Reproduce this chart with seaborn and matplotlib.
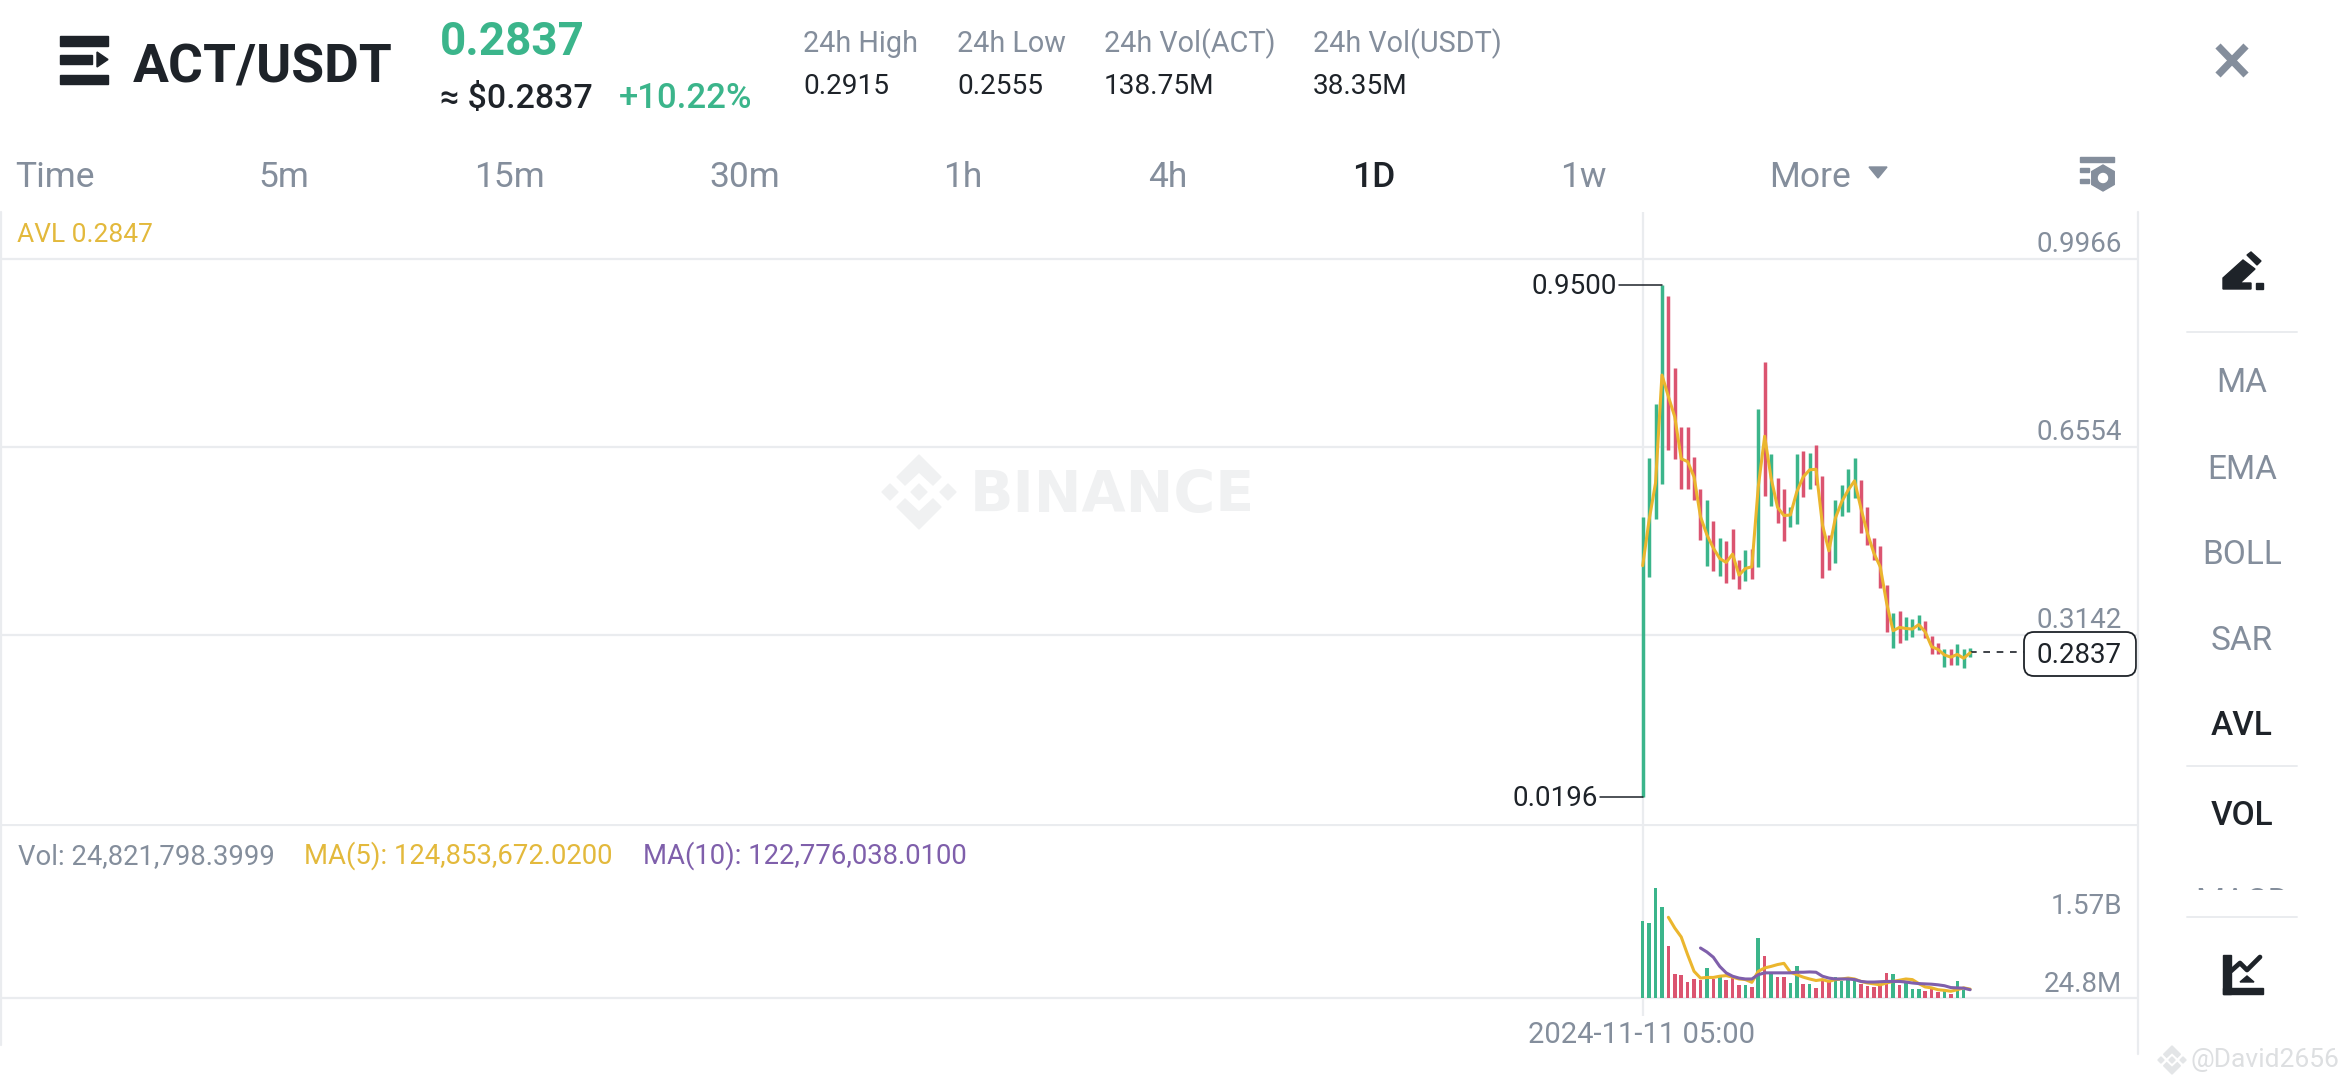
import numpy as np
import pandas as pd
import matplotlib
matplotlib.use('Agg')
import matplotlib.pyplot as plt
import seaborn as sns
from matplotlib.patches import Circle, FancyBboxPatch, Polygon, Rectangle, RegularPolygon

W, H = 2340, 1080

GREEN = '#3BB58B'
RED = '#DB5470'
YELLOW = '#EBB62E'
LABEL_YELLOW = '#E3B93C'
PURPLE = '#7F5FAB'
DARK = '#1E2329'
GRAY = '#848E9C'
LINE = '#EAECEF'

# candles: g = up, r = down
SIDE = list('ggggrrrrrrgrgrrrgrgrgrrggrgrrrggggrrrrrgrgggrrrgrggg')
HIGH = [0.528, 0.636, 0.733, 0.950, 0.929, 0.798, 0.692, 0.692, 0.638, 0.580,
        0.559, 0.521, 0.491, 0.484, 0.506, 0.450, 0.468, 0.470, 0.724, 0.809,
        0.642, 0.600, 0.580, 0.546, 0.642, 0.649, 0.645, 0.659, 0.602, 0.496,
        0.560, 0.586, 0.615, 0.635, 0.595, 0.547, 0.491, 0.476, 0.405, 0.354,
        0.357, 0.346, 0.343, 0.350, 0.339, 0.312, 0.300, 0.289, 0.288, 0.298,
        0.288, 0.290]
LOW = [0.0196, 0.420, 0.525, 0.588, 0.650, 0.633, 0.579, 0.579, 0.560, 0.487,
       0.440, 0.431, 0.422, 0.409, 0.415, 0.397, 0.412, 0.416, 0.438, 0.566,
       0.548, 0.517, 0.485, 0.511, 0.515, 0.565, 0.579, 0.586, 0.418, 0.432,
       0.445, 0.531, 0.538, 0.562, 0.500, 0.477, 0.450, 0.400, 0.320, 0.291,
       0.300, 0.305, 0.310, 0.323, 0.308, 0.280, 0.280, 0.256, 0.260, 0.259,
       0.254, 0.274]
AVL = [0.440, 0.523, 0.590, 0.786, 0.747, 0.710, 0.634, 0.629, 0.601, 0.529,
       0.496, 0.472, 0.453, 0.446, 0.461, 0.423, 0.435, 0.438, 0.583, 0.675,
       0.599, 0.546, 0.531, 0.532, 0.574, 0.601, 0.614, 0.615, 0.514, 0.467,
       0.526, 0.556, 0.577, 0.594, 0.544, 0.499, 0.463, 0.438, 0.372, 0.322,
       0.328, 0.326, 0.325, 0.333, 0.320, 0.293, 0.288, 0.278, 0.274, 0.279,
       0.272, 0.282]

# volume in millions
VOL = [250, 245, 359, 296, 171, 79, 74, 53, 61, 60,
       97, 61, 68, 59, 71, 41, 43, 36, 196, 138,
       78, 68, 67, 49, 105, 46, 45, 34, 58, 54,
       68, 57, 60, 62, 45, 40, 35, 42, 82, 79,
       42, 52, 30, 28, 22, 29, 20, 22, 14, 57,
       25, 0]
MA5 = [np.nan, np.nan, np.nan, np.nan,
       263, 228, 199, 141, 87, 65,
       67, 67, 71, 73, 68, 62, 60, 51, 87, 98,
       103, 109, 113, 84, 76, 68, 62, 57, 60, 54,
       60, 62, 65, 62, 54, 49, 46, 43, 49, 54,
       58, 62, 60, 47, 36, 33, 27, 25, 22, 27,
       33, 29]
MA10 = [np.nan, np.nan, np.nan, np.nan, np.nan, np.nan, np.nan, np.nan, np.nan,
        163,
        150, 133, 103, 82, 71, 65, 62, 62, 76, 82,
        82, 82, 82, 82, 84, 84, 85, 84, 71, 65,
        62, 62, 62, 60, 54, 52, 52, 53, 54, 54,
        54, 52, 49, 47, 46, 45, 43, 40, 34, 33,
        32, 27]

PRICE_TICKS = ['0.9966', '0.6554', '0.3142']
TABS = ['Time', '5m', '15m', '30m', '1h', '4h', '1D', '1w', 'More']
MENU = ['MA', 'EMA', 'BOLL', 'SAR', 'AVL', 'VOL']
STATS = [('24h High', '0.2915'), ('24h Low', '0.2555'),
         ('24h Vol(ACT)', '138.75M'), ('24h Vol(USDT)', '38.35M')]


def panel(fig, top, bottom, right=2138):
    # axes placed by its pixel box, y counted from the top of the picture
    ax = fig.add_axes([0, 1 - bottom / H, right / W, (bottom - top) / H])
    ax.patch.set_alpha(0)
    # same mapping on both panels: one candle is 6.42 px, the first at x=1642.7
    ax.set_xlim(-1642.7 / 6.42, (right - 1642.7) / 6.42)
    return ax


def plain(ax):
    ax.set_xlabel('')
    ax.set_ylabel('')
    ax.set_xticks([])
    sns.despine(ax=ax, left=True, bottom=True)


def draw_icons(ov):
    # menu icon
    ov.add_patch(Rectangle((60, 36), 48, 10, color=DARK))
    ov.add_patch(Rectangle((60, 55), 32, 9, color=DARK))
    ov.add_patch(Polygon([(97, 52), (108, 59.5), (97, 67)], color=DARK))
    ov.add_patch(Rectangle((60, 75), 48, 9, color=DARK))

    # close
    ov.plot([2218, 2246], [46, 75], color=GRAY, lw=5.2, solid_capstyle='butt')
    ov.plot([2246, 2218], [46, 75], color=GRAY, lw=5.2, solid_capstyle='butt')

    # triangle next to More
    ov.add_patch(Polygon([(1869, 167), (1887, 167), (1878, 178)], color=GRAY))

    # settings icon
    ov.add_patch(Rectangle((2080, 157), 34, 5, color=GRAY))
    ov.add_patch(Rectangle((2080, 168), 9, 4, color=GRAY))
    ov.add_patch(Rectangle((2080, 179), 9, 4, color=GRAY))
    ov.add_patch(RegularPolygon((2103, 178), 6, radius=13, color=GRAY))
    ov.add_patch(Circle((2103, 178), 4.5, color='white'))

    # pen icon
    ov.add_patch(Polygon([(2223, 289), (2223, 278), (2243, 260), (2255, 269), (2240, 283),
                          (2251, 283), (2251, 289)], color=DARK))
    ov.add_patch(Polygon([(2247, 255), (2251, 252), (2261, 261), (2257, 265)], color=DARK))
    ov.add_patch(Rectangle((2256, 283), 7, 6, color=DARK))

    # chart icon
    ov.add_patch(Rectangle((2223, 955), 8, 39, color=DARK))
    ov.add_patch(Rectangle((2223, 988), 40, 6, color=DARK))
    ov.plot([2231, 2240, 2247, 2260], [971, 963, 970, 957], color=DARK, lw=3.4)
    ov.add_patch(Polygon([(2240, 982), (2247, 976), (2254, 982)], color=DARK))


def draw_logo(ov, cx, cy, scale, color):
    # exchange logo, big one behind the chart and small one by the watermark
    for dx in (-29, 0, 29):
        ov.add_patch(Polygon([(cx + (dx - 8) * scale, cy), (cx + dx * scale, cy - 8 * scale),
                              (cx + (dx + 8) * scale, cy), (cx + dx * scale, cy + 8 * scale)], color=color))
    for sign in (-1, 1):
        ov.add_patch(Polygon([(cx, cy + sign * 37 * scale), (cx - 22 * scale, cy + sign * 15 * scale),
                              (cx - 14 * scale, cy + sign * 7 * scale), (cx, cy + sign * 20 * scale),
                              (cx + 14 * scale, cy + sign * 7 * scale), (cx + 22 * scale, cy + sign * 15 * scale)],
                             color=color))


def main():
    df = pd.DataFrame({'idx': range(len(HIGH)), 'high': HIGH, 'low': LOW, 'avl': AVL, 'side': SIDE,
                       'vol': VOL, 'ma5': MA5, 'ma10': MA10})
    colors = {'g': GREEN, 'r': RED}

    sns.set_theme(style='white')
    plt.rcParams['font.family'] = ['Roboto', 'DejaVu Sans']
    fig = plt.figure(figsize=(W / 100, H / 100), dpi=100, facecolor='white')

    # price panel
    ax = panel(fig, 212, 824)
    ax.set_ylim(0.6554 + (447 - 824) / 551, 0.6554 + (447 - 212) / 551)
    ax.set_yticks([float(t) for t in PRICE_TICKS])
    ax.tick_params(left=False, labelleft=False)
    ax.grid(axis='y', color=LINE, lw=1.6)
    ax.axvline(0, color=LINE, lw=1.6, zorder=0)
    ax.vlines(df['idx'], df['low'], df['high'], colors=df['side'].map(colors), linewidth=2.5, zorder=2)
    sns.lineplot(data=df, x='idx', y='avl', color=YELLOW, linewidth=2.2, ax=ax, zorder=3)
    ax.plot([-3.7, 3], [0.95, 0.95], color=DARK, lw=1.1)
    ax.plot([-6.7, 0], [0.0196, 0.0196], color=DARK, lw=1.1)
    ax.plot([51, 59.4], [0.2837, 0.2837], color=DARK, lw=1.2, ls=(0, (4, 4)))
    plain(ax)

    # volume panel
    ax_vol = panel(fig, 824, 1016)
    ax_vol.axhline(0, color=LINE, lw=1.6, zorder=0)
    ax_vol.axhline((998 - 824) * 3.26, color=LINE, lw=3, zorder=0)
    ax_vol.axvline(0, color=LINE, lw=1.6, zorder=0)
    sns.barplot(data=df, x='idx', y='vol', hue='side', palette=colors, native_scale=True, dodge=False,
                width=0.55, saturation=1, linewidth=0, legend=False, ax=ax_vol)
    sns.lineplot(data=df, x='idx', y='ma5', color=YELLOW, linewidth=2.2, ax=ax_vol)
    sns.lineplot(data=df, x='idx', y='ma10', color=PURPLE, linewidth=2.2, ax=ax_vol)
    ax_vol.set_xlim(-1642.7 / 6.42, (2138 - 1642.7) / 6.42)
    ax_vol.set_ylim(-18 * 3.26, (998 - 824) * 3.26)
    ax_vol.set_yticks([])
    plain(ax_vol)

    # everything around the chart, in picture pixels
    ov = fig.add_axes([0, 0, 1, 1], zorder=5)
    ov.set_xlim(0, W)
    ov.set_ylim(H, 0)
    ov.axis('off')

    ov.plot([1, 1], [212, 1045], color=LINE, lw=1.6)
    ov.plot([2138, 2138], [212, 1054], color=LINE, lw=1.6)
    for y in (332, 766, 917):
        ov.plot([2187, 2297], [y, y], color=LINE, lw=1.4)

    draw_logo(ov, 919, 492, 1, '#F0F1F2')
    ov.text(970, 512, 'BINANCE', fontsize=41, color='#F0F1F2', family='DejaVu Sans', weight='bold', va='baseline')
    draw_icons(ov)

    ov.text(133, 83, 'ACT/USDT', fontsize=38.4, color=DARK, weight='bold', va='baseline')
    ov.text(440, 55, '0.2837', fontsize=33, color=GREEN, weight='bold', va='baseline')
    ov.text(440, 108, '≈ $0.2837', fontsize=24.4, color=DARK, weight='medium', va='baseline')
    ov.text(619, 108, '+10.22%', fontsize=25, color=GREEN, weight='medium', va='baseline')

    for x, (name, value) in zip((803, 957, 1104, 1313), STATS):
        ov.text(x, 52, name, fontsize=20.7, color=GRAY, va='baseline')
        ov.text(x, 94, value, fontsize=20.2, color=DARK, va='baseline')

    tab_x = (15, 258, 474, 709, 943, 1148, 1352, 1560, 1769)
    for x, tab in zip(tab_x, TABS):
        active = tab == '1D'
        ov.text(x, 187, tab, fontsize=25.5, color=DARK if active else GRAY,
                weight='medium' if active else 'normal', va='baseline')

    ov.text(17, 242, 'AVL 0.2847', fontsize=19, color=LABEL_YELLOW, va='baseline')

    for y, tick in zip((252, 440, 628), PRICE_TICKS):
        ov.text(2122, y, tick, fontsize=20, color=GRAY, ha='right', va='baseline')
    ov.text(2122, 914, '1.57B', fontsize=20, color=GRAY, ha='right', va='baseline')
    ov.text(2122, 992, '24.8M', fontsize=20, color=GRAY, ha='right', va='baseline')

    ov.text(1617, 294, '0.9500', fontsize=20, color=DARK, ha='right', va='baseline')
    ov.text(1598, 806, '0.0196', fontsize=20, color=DARK, ha='right', va='baseline')

    box = FancyBboxPatch((2024, 632), 112, 44, boxstyle='round,pad=0,rounding_size=10',
                         fc='white', ec=DARK, lw=1.3)
    ov.add_patch(box)
    ov.text(2122, 663, '0.2837', fontsize=20, color=DARK, ha='right', va='baseline')

    ov.text(18, 864, 'Vol: 24,821,798.3999', fontsize=19.8, color=GRAY, va='baseline')
    ov.text(304, 864, 'MA(5): 124,853,672.0200', fontsize=19.8, color=LABEL_YELLOW, va='baseline')
    ov.text(643, 864, 'MA(10): 122,776,038.0100', fontsize=19.8, color=PURPLE, va='baseline')

    ov.text(1642, 1043, '2024-11-11 05:00', fontsize=21, color=GRAY, ha='center', va='baseline')

    for y, name in zip((383, 470, 555, 641, 726, 816), MENU):
        active = name in ('AVL', 'VOL')
        ov.text(2242, y, name, fontsize=24, color=DARK if active else GRAY,
                weight='medium' if active else 'normal', ha='center', va='center')
    macd = ov.text(2242, 903, 'MACD', fontsize=24, color=GRAY, ha='center', va='center')
    macd.set_clip_on(True)
    macd.set_clip_path(Rectangle((2180, 860), 120, 30, transform=ov.transData))

    ov.text(2190, 1067, '@David2656', fontsize=19, color='#DDDFE1', va='baseline')
    draw_logo(ov, 2172, 1060, 0.38, '#E3E5E7')

    fig.savefig('out.png', dpi=100)


main()
